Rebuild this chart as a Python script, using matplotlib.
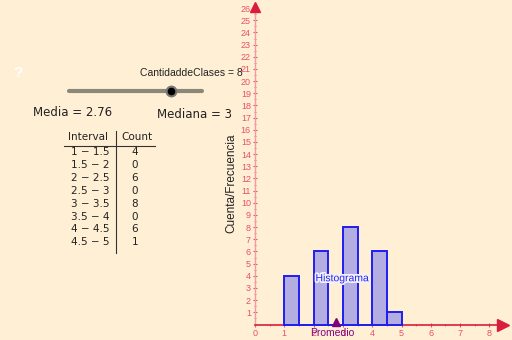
import numpy as np
import matplotlib.pyplot as plt
import matplotlib.patheffects as pe

# datos del histograma
limites = [1, 1.5, 2, 2.5, 3, 3.5, 4, 4.5, 5]
cuentas = [4, 0, 6, 0, 8, 0, 6, 1]
media = 2.76
mediana = 3
clases = 8

fondo = '#FFEFD5'
rojo = '#D81E3C'
rosa = '#E8506A'
azul = '#1E1EF0'
morado = '#800080'
tinta = '#222222'

plt.rcParams['font.family'] = ['Liberation Sans', 'DejaVu Sans']
sans = ['DejaVu Sans']

W, H = 512, 340
fig = plt.figure(figsize=(W / 100, H / 100), dpi=100, facecolor=fondo)

# capa para textos y deslizador (coordenadas en pixeles)
ax0 = fig.add_axes([0, 0, 1, 1])
ax0.set_xlim(0, W)
ax0.set_ylim(H, 0)
ax0.axis('off')

# ejes del histograma
ax = fig.add_axes([0, 0, 1, 1])
ax.set_facecolor('none')
ux, x0 = 29.3, 255
uy, y0 = 12.17, 324.5
ax.set_xlim(-x0 / ux, (W - x0) / ux)
ax.set_ylim(-(H - y0) / uy, y0 / uy)

for s in ['top', 'right']:
    ax.spines[s].set_visible(False)
ax.spines['left'].set_position(('data', 0))
ax.spines['bottom'].set_position(('data', 0))
ax.spines['left'].set_bounds(0, 26)
ax.spines['bottom'].set_bounds(0, 8.45)
ax.spines['left'].set_color('#F29AA6')
ax.spines['bottom'].set_color(rojo)
ax.spines['left'].set_linewidth(1.0)
ax.spines['bottom'].set_linewidth(1.2)

ax.plot(8.45, 0, marker='>', color=rojo, ms=8, clip_on=False, zorder=6)
ax.plot(0, 26.05, marker='^', color=rojo, ms=7, clip_on=False, zorder=6)

ax.set_xticks(range(0, 9))
ax.set_yticks(range(1, 27))
ax.set_xticks(np.arange(0.5, 8.5, 1), minor=True)
ax.set_yticks(np.arange(0.5, 26, 1), minor=True)
ax.tick_params(which='major', direction='inout', length=3, width=0.8,
               colors=rosa, labelsize=6.5, pad=1.5)
ax.tick_params(which='minor', direction='inout', length=1.5, width=0.6,
               colors=rosa)

ax.bar(limites[:-1], cuentas, width=0.5, align='edge', color='#B3ADE2',
       edgecolor=azul, linewidth=1.4, zorder=3)

ax.text(2.97, 3.8, 'Histograma', color='#2626E6', ha='center', va='center',
        fontsize=7.5, zorder=7,
        path_effects=[pe.withStroke(linewidth=2.5, foreground='#F4F0FF')])

ax.plot(media, 0.2, marker='^', color=morado, ms=6, clip_on=False, zorder=6)
ax.text(media - 0.13, -0.72, 'Promedio', color=morado, ha='center',
        va='center', fontsize=7.5, zorder=7)

ax.text(-0.82, 11.6, 'Cuenta/Frecuencia', rotation=90, ha='center',
        va='center', fontsize=8.5, color=tinta)

# deslizador
ax0.plot([69, 202], [91, 91], color='#8C8878', lw=3, solid_capstyle='round')
ax0.plot(171, 91, marker='o', ms=7, color='black', mec='#777777', mew=1.5)
ax0.text(191, 73, f'CantidaddeClases = {clases}', ha='center', va='center',
         fontsize=7.5, color=tinta)
ax0.text(18, 73, '?', ha='center', va='center', fontsize=11,
         fontweight='bold', color='white')

ax0.text(33, 113, f'Media = {media:.2f}', ha='left', va='center',
         fontsize=8.5, color=tinta, family=sans)
ax0.text(157, 115, f'Mediana = {mediana:g}', ha='left', va='center',
         fontsize=8.5, color=tinta, family=sans)

# tabla de frecuencias
ax0.text(68, 137, 'Interval', ha='left', va='center', fontsize=7.5,
         color=tinta, family=sans)
ax0.text(137, 137, 'Count', ha='center', va='center', fontsize=7.5,
         color=tinta, family=sans)
ax0.plot([64, 155], [146, 146], color='#333333', lw=0.8)
ax0.plot([116, 116], [131, 253], color='#333333', lw=0.8)
for i, c in enumerate(cuentas):
    yy = 152.3 + i * 12.86
    ax0.text(71, yy, f'{limites[i]:g} \u2212 {limites[i + 1]:g}',
             ha='left', va='center', fontsize=7.5, color=tinta, family=sans)
    ax0.text(135, yy, f'{c}', ha='center', va='center', fontsize=7.5,
             color=tinta, family=sans)

fig.savefig('out.png', dpi=100, facecolor=fondo)
